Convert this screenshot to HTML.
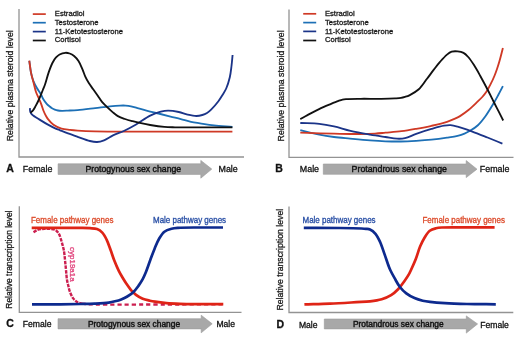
<!DOCTYPE html>
<html><head><meta charset="utf-8"><style>
html,body{margin:0;padding:0;background:#fff;}
body{width:520px;height:341px;overflow:hidden;}
svg{display:block;filter:blur(0.3px);}
text{font-family:"Liberation Sans",Arial,sans-serif;stroke-width:0.3px;}
.lg{font-size:7.65px;fill:#1a1a1a;stroke:#1a1a1a;}
.yl{font-size:8.73px;fill:#1a1a1a;stroke:#1a1a1a;}
.yl2{font-size:8.42px;fill:#1a1a1a;stroke:#1a1a1a;}
.pl{font-size:10.5px;font-weight:bold;fill:#111;stroke:#111;}
.ar{font-size:8.8px;fill:#111;stroke:#111;stroke-width:0.4px;}
.el{font-size:8.9px;fill:#111;stroke:#111;}
.el2{font-size:8.6px;}
.gl{font-size:8px;}
.cy{font-size:8px;}
</style></head><body>
<svg width="520" height="341" viewBox="0 0 520 341">
<rect width="520" height="341" fill="#fff"/>
<path d="M19,9 V157 H244" fill="none" stroke="#939393" stroke-width="1.3"/>
<path d="M289,9.5 V157.3 H513.5" fill="none" stroke="#939393" stroke-width="1.3"/>
<path d="M19.3,206.3 V312.3 H241.5" fill="none" stroke="#939393" stroke-width="1.3"/>
<path d="M289,206.5 V312.5 H513.3" fill="none" stroke="#939393" stroke-width="1.3"/>
<line x1="32.8" y1="14.1" x2="45.8" y2="14.1" stroke="#cf3925" stroke-width="1.7"/>
<text x="54.8" y="15.6" class="lg">Estradiol</text>
<line x1="32.8" y1="22.7" x2="45.8" y2="22.7" stroke="#1d70b6" stroke-width="1.7"/>
<text x="54.8" y="24.5" class="lg">Testosterone</text>
<line x1="32.8" y1="31.6" x2="45.8" y2="31.6" stroke="#1b3488" stroke-width="1.7"/>
<text x="54.8" y="33.5" class="lg">11-Ketotestosterone</text>
<line x1="32.8" y1="40.5" x2="45.8" y2="40.5" stroke="#111111" stroke-width="1.7"/>
<text x="54.8" y="42.4" class="lg">Cortisol</text>
<line x1="303.2" y1="13.8" x2="316.2" y2="13.8" stroke="#cf3925" stroke-width="1.7"/>
<text x="324.9" y="15.6" class="lg">Estradiol</text>
<line x1="303.2" y1="22.6" x2="316.2" y2="22.6" stroke="#1d70b6" stroke-width="1.7"/>
<text x="324.9" y="24.5" class="lg">Testosterone</text>
<line x1="303.2" y1="31.4" x2="316.2" y2="31.4" stroke="#1b3488" stroke-width="1.7"/>
<text x="324.9" y="33.5" class="lg">11-Ketotestosterone</text>
<line x1="303.2" y1="40.5" x2="316.2" y2="40.5" stroke="#111111" stroke-width="1.7"/>
<text x="324.9" y="42.4" class="lg">Cortisol</text>
<path d="M29.30,60.80 C29.87,64.73 30.25,69.05 31.00,72.60 C31.63,75.60 32.30,78.20 33.30,80.80 C34.28,83.33 35.60,85.72 36.90,88.00 C38.14,90.18 39.76,92.18 40.90,94.20 C41.92,96.01 42.50,97.87 43.50,99.50 C44.45,101.06 45.62,102.60 46.70,103.80 C47.59,104.79 48.49,105.55 49.40,106.30 C50.25,107.00 51.09,107.65 52.00,108.20 C52.89,108.74 53.82,109.22 54.80,109.60 C55.81,109.99 56.86,110.30 58.00,110.50 C59.25,110.72 60.53,110.77 62.00,110.80 C63.80,110.84 65.77,110.70 68.00,110.60 C70.83,110.48 73.92,110.40 77.60,110.10 C82.59,109.69 89.59,108.76 95.20,108.10 C100.35,107.49 105.54,106.73 110.00,106.30 C113.65,105.95 117.14,105.70 120.00,105.60 C122.13,105.53 123.75,105.48 125.60,105.60 C127.42,105.72 129.07,105.92 131.00,106.30 C133.31,106.76 135.73,107.54 138.50,108.30 C141.97,109.25 146.43,110.62 150.20,111.60 C153.68,112.50 156.93,113.17 160.30,114.00 C163.70,114.84 167.09,115.75 170.50,116.60 C173.92,117.45 177.38,118.23 180.80,119.10 C184.21,119.97 187.69,121.09 191.00,121.80 C194.08,122.46 196.67,122.77 200.00,123.30 C204.15,123.96 209.00,124.84 214.00,125.40 C219.70,126.04 226.27,126.33 232.40,126.80" fill="none" stroke="#1d70b6" stroke-width="1.85" stroke-linecap="butt" stroke-linejoin="round" />
<path d="M29.30,60.60 C29.87,64.60 30.26,68.86 31.00,72.60 C31.66,75.94 32.58,78.82 33.40,82.00 C34.25,85.28 34.94,88.94 36.00,92.00 C36.95,94.72 38.34,97.24 39.30,99.50 C40.09,101.36 40.72,102.79 41.40,104.60 C42.16,106.60 42.79,109.02 43.60,111.00 C44.34,112.79 45.16,114.53 46.00,116.00 C46.71,117.24 47.24,118.11 48.20,119.30 C49.53,120.96 51.39,123.28 53.50,124.80 C55.77,126.43 58.73,127.75 61.50,128.60 C64.23,129.44 67.24,129.56 70.00,129.90 C72.60,130.22 74.55,130.39 77.60,130.60 C82.21,130.92 88.67,131.23 95.00,131.40 C102.58,131.60 109.87,131.56 120.00,131.60 C135.69,131.66 160.68,131.60 180.00,131.60 C198.06,131.60 214.93,131.60 232.40,131.60" fill="none" stroke="#cf3925" stroke-width="1.85" stroke-linecap="butt" stroke-linejoin="round" />
<path d="M29.90,108.20 C30.00,109.30 29.90,110.49 30.20,111.50 C30.49,112.45 30.92,113.29 31.60,114.10 C32.42,115.08 33.78,115.94 35.00,116.80 C36.30,117.71 37.56,118.40 39.20,119.40 C41.50,120.80 44.71,122.85 47.50,124.40 C50.22,125.91 53.38,127.55 55.70,128.60 C57.34,129.34 58.34,129.65 60.00,130.30 C62.25,131.18 65.20,132.36 68.00,133.40 C71.05,134.53 74.20,135.62 77.60,136.80 C81.44,138.14 86.32,140.15 89.90,141.00 C92.56,141.63 94.65,142.12 97.00,142.00 C99.35,141.88 101.58,141.23 104.00,140.30 C106.88,139.19 109.82,136.91 113.00,135.40 C116.39,133.79 120.13,132.71 123.80,131.00 C127.81,129.13 131.91,126.93 136.10,124.50 C140.69,121.84 145.72,117.81 150.20,115.60 C153.88,113.78 157.57,112.53 160.80,111.70 C163.39,111.03 165.36,110.63 168.00,110.60 C171.23,110.56 175.41,111.28 178.80,112.00 C181.91,112.66 184.64,113.93 187.60,114.60 C190.51,115.26 193.76,116.01 196.40,116.00 C198.56,115.99 200.47,115.54 202.30,115.00 C203.99,114.51 205.55,113.89 207.00,113.00 C208.48,112.10 209.60,111.06 211.10,109.60 C213.26,107.49 216.39,103.85 218.40,101.20 C220.05,99.03 221.20,97.11 222.50,95.00 C223.80,92.88 225.09,91.03 226.20,88.50 C227.59,85.33 228.91,81.08 229.80,77.30 C230.67,73.58 231.03,69.75 231.50,66.00 C231.96,62.31 232.23,58.67 232.60,55.00" fill="none" stroke="#1b3488" stroke-width="1.85" stroke-linecap="butt" stroke-linejoin="round" />
<path d="M30.30,112.80 C31.13,112.07 32.00,111.54 32.80,110.60 C33.83,109.38 34.76,107.58 35.70,105.90 C36.73,104.06 37.67,102.25 38.70,100.00 C40.02,97.13 41.63,92.87 42.80,90.00 C43.68,87.84 44.31,86.56 45.10,84.30 C46.22,81.11 47.32,76.28 48.60,72.60 C49.77,69.22 51.03,65.67 52.40,63.00 C53.47,60.91 54.51,59.17 55.80,57.70 C56.94,56.40 58.11,55.30 59.60,54.50 C61.23,53.62 63.51,52.92 65.30,52.80 C66.85,52.70 68.28,53.00 69.70,53.50 C71.22,54.03 72.72,54.87 74.10,56.00 C75.69,57.30 77.18,59.08 78.50,61.10 C80.07,63.49 81.42,66.88 82.60,69.60 C83.65,72.02 84.26,74.35 85.30,76.60 C86.33,78.82 87.50,80.91 88.80,83.00 C90.13,85.15 91.73,87.21 93.20,89.30 C94.66,91.38 96.14,93.41 97.60,95.50 C99.07,97.61 100.45,100.01 102.00,101.90 C103.40,103.60 104.79,104.83 106.40,106.40 C108.27,108.21 110.57,110.41 112.60,112.10 C114.40,113.60 115.92,114.98 117.90,116.10 C120.02,117.31 122.57,118.15 125.00,119.00 C127.47,119.86 129.99,120.51 132.60,121.20 C135.32,121.92 138.13,122.58 141.00,123.20 C143.99,123.85 146.80,124.44 150.20,125.00 C154.39,125.69 159.92,126.52 164.30,126.90 C168.10,127.23 170.69,127.21 175.00,127.30 C181.59,127.44 191.13,127.38 200.00,127.40 C210.10,127.42 221.60,127.40 232.40,127.40" fill="none" stroke="#111111" stroke-width="1.85" stroke-linecap="butt" stroke-linejoin="round" />
<path d="M300.30,130.10 C303.20,130.83 305.97,131.56 309.00,132.30 C312.28,133.10 315.55,133.97 319.30,134.70 C323.75,135.57 328.99,136.36 334.00,137.00 C339.21,137.67 344.37,138.06 350.00,138.60 C356.29,139.20 363.76,139.94 370.00,140.40 C375.46,140.81 380.26,141.12 385.40,141.30 C390.53,141.48 395.67,141.58 400.80,141.50 C405.93,141.42 411.08,141.12 416.20,140.80 C421.31,140.48 426.39,140.13 431.50,139.60 C436.66,139.07 442.33,138.30 447.00,137.60 C450.87,137.02 454.47,136.56 457.60,135.80 C460.17,135.18 462.36,134.48 464.50,133.60 C466.47,132.79 468.05,131.98 470.00,130.80 C472.45,129.32 475.41,127.51 477.90,125.20 C480.71,122.59 483.27,119.19 485.80,115.70 C488.59,111.86 491.53,106.84 493.80,103.00 C495.62,99.91 496.97,97.33 498.50,94.50 C500.01,91.70 501.43,88.90 502.90,86.10" fill="none" stroke="#1d70b6" stroke-width="1.85" stroke-linecap="butt" stroke-linejoin="round" />
<path d="M300.30,132.60 C306.87,132.83 313.41,133.10 320.00,133.30 C326.64,133.50 333.33,133.68 340.00,133.80 C346.67,133.92 353.81,134.05 360.00,134.00 C365.36,133.96 370.46,133.86 375.00,133.60 C378.79,133.39 381.56,133.05 385.40,132.70 C390.18,132.27 396.27,131.87 401.50,131.20 C406.52,130.56 411.26,129.69 416.20,128.80 C421.26,127.89 426.40,126.94 431.50,125.80 C436.67,124.64 442.72,123.29 447.00,121.90 C450.14,120.88 452.67,119.77 455.00,118.70 C456.89,117.84 458.14,117.24 460.00,116.10 C462.57,114.52 465.94,112.14 468.80,109.80 C471.81,107.33 475.08,104.03 477.60,101.60 C479.55,99.72 481.18,98.21 482.70,96.50 C484.08,94.94 485.20,93.61 486.40,91.80 C487.85,89.62 489.28,86.81 490.60,84.20 C491.95,81.54 493.30,78.65 494.40,76.00 C495.40,73.59 496.17,71.42 497.00,69.00 C497.88,66.43 498.64,64.01 499.50,61.00 C500.59,57.18 501.77,52.27 502.90,47.90" fill="none" stroke="#cf3925" stroke-width="1.85" stroke-linecap="butt" stroke-linejoin="round" />
<path d="M300.30,119.10 C302.70,117.77 304.80,116.55 307.50,115.10 C310.90,113.28 315.21,110.95 319.10,109.10 C322.91,107.29 327.12,105.56 330.60,104.10 C333.47,102.89 336.30,101.70 338.50,100.90 C340.05,100.34 341.20,99.90 342.50,99.60 C343.69,99.32 344.42,99.23 346.00,99.10 C349.22,98.84 355.47,98.85 360.80,98.80 C367.08,98.74 375.15,98.89 381.30,98.80 C386.33,98.73 391.36,98.60 395.00,98.40 C397.41,98.26 399.21,98.20 401.00,97.90 C402.48,97.66 403.65,97.31 405.00,96.90 C406.44,96.46 407.71,96.13 409.40,95.30 C412.01,94.01 415.97,91.87 418.80,89.30 C421.89,86.49 424.39,82.22 427.00,78.80 C429.44,75.59 431.73,72.34 434.00,69.40 C436.05,66.74 437.86,64.34 440.00,61.90 C442.19,59.40 444.79,56.39 447.00,54.60 C448.63,53.28 449.97,52.24 451.70,51.70 C453.49,51.14 455.65,51.21 457.60,51.40 C459.58,51.60 461.74,51.98 463.50,52.90 C465.28,53.83 466.65,55.29 468.20,57.00 C470.16,59.16 472.10,62.15 474.00,65.10 C476.14,68.42 478.17,72.17 480.30,76.00 C482.63,80.19 485.12,84.90 487.40,89.30 C489.61,93.57 491.83,98.11 493.80,102.00 C495.48,105.32 496.94,108.12 498.50,111.20 C500.07,114.29 501.63,117.40 503.20,120.50" fill="none" stroke="#111111" stroke-width="1.85" stroke-linecap="butt" stroke-linejoin="round" />
<path d="M300.30,123.00 C306.63,123.27 313.39,123.16 319.30,123.80 C324.53,124.37 328.98,125.28 334.00,126.40 C339.37,127.60 344.74,129.57 350.50,130.90 C356.70,132.33 363.87,133.54 370.00,134.60 C375.43,135.54 380.63,136.28 385.40,137.00 C389.54,137.63 393.48,138.55 397.00,138.70 C399.91,138.82 402.16,138.83 405.00,138.20 C408.48,137.43 412.15,135.24 416.20,133.80 C420.88,132.13 426.64,130.30 431.50,128.90 C435.86,127.65 440.47,126.28 444.00,125.70 C446.53,125.28 448.38,125.06 450.60,125.20 C452.91,125.34 454.89,125.88 457.60,126.60 C461.51,127.64 466.89,129.56 471.70,131.30 C476.84,133.16 482.32,135.42 487.50,137.50 C492.55,139.52 497.43,141.57 502.40,143.60" fill="none" stroke="#1b3488" stroke-width="1.85" stroke-linecap="butt" stroke-linejoin="round" />
<path d="M33.50,232.30 C34.67,231.57 35.74,230.63 37.00,230.10 C38.27,229.56 39.74,229.32 41.10,229.10 C42.41,228.89 43.67,228.85 45.00,228.80 C46.40,228.75 47.76,228.67 49.30,228.80 C51.12,228.95 53.60,228.94 55.20,229.80 C56.68,230.59 57.74,231.95 58.70,233.50 C59.87,235.37 60.59,238.29 61.30,240.50 C61.92,242.43 62.35,244.26 62.80,246.00 C63.21,247.57 63.58,248.71 63.90,250.50 C64.36,253.07 64.65,256.79 65.00,260.00 C65.35,263.29 65.67,266.67 66.00,270.00 C66.33,273.33 66.55,277.20 67.00,280.00 C67.33,282.06 67.77,283.52 68.20,285.30 C68.64,287.12 68.90,288.85 69.60,290.80 C70.45,293.17 71.71,296.41 73.20,298.40 C74.43,300.04 75.86,301.30 77.50,302.20 C79.15,303.11 81.23,303.27 83.10,303.80" fill="none" stroke="#cc1f50" stroke-width="2.4" stroke-linecap="butt" stroke-linejoin="round" stroke-dasharray="3.6 1.05"/>
<path d="M83.10,303.80 C87.07,304.03 90.30,304.35 95.00,304.50 C101.80,304.71 110.69,304.59 120.00,304.60 C131.77,304.61 145.16,304.54 160.00,304.50 C178.60,304.45 201.93,304.37 222.90,304.30" fill="none" stroke="#cc1f50" stroke-width="2.4" stroke-linecap="butt" stroke-linejoin="round" stroke-dasharray="4.2 3.0" stroke-dashoffset="1.5"/>
<path d="M31.70,227.80 C41.13,227.80 51.38,227.78 60.00,227.80 C67.24,227.82 74.48,227.80 80.00,227.90 C83.91,227.97 86.97,227.96 90.00,228.20 C92.55,228.40 94.91,228.32 97.00,229.10 C98.98,229.84 100.77,231.02 102.30,232.60 C104.04,234.40 105.30,236.97 106.60,239.60 C108.11,242.66 109.32,246.52 110.60,250.00 C111.88,253.48 112.94,257.04 114.30,260.50 C115.67,263.98 117.27,267.71 118.80,270.80 C120.11,273.45 121.50,275.81 122.80,278.00 C123.92,279.89 124.80,281.31 126.10,283.20 C127.75,285.61 130.12,289.13 132.00,291.20 C133.38,292.72 134.43,293.65 136.00,294.80 C137.89,296.18 140.36,297.71 142.70,298.70 C145.00,299.67 147.70,300.18 149.90,300.70 C151.74,301.13 152.95,301.37 155.00,301.70 C158.06,302.19 162.51,302.75 166.50,303.10 C170.81,303.47 175.06,303.63 180.00,303.80 C186.01,304.00 193.08,304.03 200.00,304.10 C207.47,304.17 215.53,304.17 223.30,304.20" fill="none" stroke="#df2416" stroke-width="2.7" stroke-linecap="butt" stroke-linejoin="round" />
<path d="M32.00,304.40 C41.33,304.37 51.45,304.38 60.00,304.30 C67.23,304.23 73.86,304.13 80.00,304.00 C85.25,303.89 89.77,303.84 94.60,303.60 C99.37,303.37 105.05,303.12 108.80,302.60 C111.30,302.25 112.95,301.83 115.00,301.30 C117.08,300.76 119.17,300.19 121.20,299.40 C123.27,298.60 125.32,297.69 127.30,296.50 C129.42,295.22 131.63,293.69 133.50,291.90 C135.41,290.07 137.05,287.75 138.60,285.60 C140.10,283.52 141.55,281.30 142.70,279.20 C143.74,277.31 144.35,275.90 145.30,273.60 C146.76,270.08 148.68,264.35 150.30,260.00 C151.80,255.98 153.17,252.07 154.70,248.40 C156.11,245.00 157.38,241.59 159.10,238.70 C160.66,236.08 162.24,233.38 164.40,231.70 C166.42,230.13 169.14,229.35 171.50,228.70 C173.67,228.10 175.18,228.01 178.00,227.80 C183.16,227.41 192.59,227.55 200.00,227.50 C207.58,227.45 215.33,227.50 223.00,227.50" fill="none" stroke="#0d2a8e" stroke-width="2.7" stroke-linecap="butt" stroke-linejoin="round" />
<path d="M304.40,304.40 C312.93,304.13 321.41,303.96 330.00,303.60 C338.71,303.23 348.95,302.61 356.30,302.20 C361.61,301.90 365.63,301.92 370.00,301.40 C374.07,300.92 378.07,300.40 381.70,299.30 C385.07,298.28 388.31,296.93 391.10,295.20 C393.74,293.56 395.97,291.52 398.10,289.30 C400.28,287.03 402.18,284.21 404.00,281.70 C405.70,279.35 407.47,276.84 408.70,274.70 C409.67,273.01 410.12,271.91 411.00,270.00 C412.34,267.11 414.31,262.81 415.80,259.00 C417.36,255.02 418.53,250.33 420.10,246.60 C421.46,243.37 422.83,240.50 424.50,237.80 C426.08,235.25 427.71,232.40 429.80,230.80 C431.62,229.41 433.91,228.85 436.00,228.30 C438.01,227.77 439.53,227.68 442.10,227.50 C446.49,227.19 453.06,227.34 460.00,227.30 C469.65,227.25 483.07,227.30 494.60,227.30" fill="none" stroke="#df2416" stroke-width="2.7" stroke-linecap="butt" stroke-linejoin="round" />
<path d="M303.80,227.80 C315.87,227.87 329.50,227.85 340.00,228.00 C348.10,228.12 357.00,228.30 361.50,228.50 C363.56,228.59 364.55,228.64 366.00,228.80 C367.38,228.95 368.64,228.81 370.00,229.40 C371.79,230.18 373.90,231.92 375.50,233.80 C377.35,235.98 378.69,238.92 380.10,242.00 C381.77,245.65 383.14,250.29 384.60,254.40 C386.04,258.45 387.67,263.57 388.80,266.50 C389.46,268.21 389.77,268.97 390.50,270.50 C391.54,272.67 393.11,275.57 394.60,278.20 C396.22,281.06 397.87,284.41 399.90,287.00 C401.80,289.43 403.90,291.56 406.30,293.40 C408.75,295.28 411.70,296.87 414.50,298.10 C417.17,299.27 420.02,300.06 422.70,300.70 C425.18,301.29 427.13,301.54 430.00,301.90 C434.10,302.41 439.52,302.86 445.00,303.20 C451.61,303.61 459.09,303.82 466.90,304.00 C475.87,304.21 486.17,304.20 495.80,304.30" fill="none" stroke="#0d2a8e" stroke-width="2.7" stroke-linecap="butt" stroke-linejoin="round" />
<text class="yl" transform="translate(13.3,85.75) rotate(-90)" text-anchor="middle">Relative plasma steroid level</text>
<text class="yl" transform="translate(283.5,85.9) rotate(-90)" text-anchor="middle">Relative plasma steroid level</text>
<text class="yl2" transform="translate(12.3,259.6) rotate(-90)" text-anchor="middle">Relative transcription level</text>
<text class="yl" transform="translate(282.5,259.7) rotate(-90)" text-anchor="middle">Relative transcription level</text>
<text class="pl" x="6.3" y="172">A</text>
<text class="pl" x="275.3" y="172">B</text>
<text class="pl" x="6.3" y="326.8">C</text>
<text class="pl" x="276.5" y="327.5">D</text>
<path d="M58.1,163.8 H200.8 V160.4 L211.8,169.10000000000002 L200.8,178.2 V174.4 H58.1 Z" fill="#a8a8a8" stroke="#9a9a9a" stroke-width="0.6"/><text class="ar" style="font-size:8.7px" x="85.5" y="171.9">Protogynous sex change</text>
<path d="M323.3,164.0 H466.2 V160.6 L477.0,169.15 L466.2,177.6 V174.3 H323.3 Z" fill="#a8a8a8" stroke="#9a9a9a" stroke-width="0.6"/><text class="ar" style="font-size:8.8px" x="351.6" y="171.9">Protandrous sex change</text>
<path d="M58.0,318.7 H201.2 V315.2 L212.2,323.79999999999995 L201.2,332.8 V328.9 H58.0 Z" fill="#a8a8a8" stroke="#9a9a9a" stroke-width="0.6"/><text class="ar" style="font-size:8.4px" x="87.9" y="327.1">Protogynous sex change</text>
<path d="M324.3,319.0 H466.3 V315.9 L477.6,323.95 L466.3,333.1 V328.9 H324.3 Z" fill="#a8a8a8" stroke="#9a9a9a" stroke-width="0.6"/><text class="ar" style="font-size:8.4px" x="352.9" y="327.1">Protandrous sex change</text>
<text class="el" x="22.8" y="171.8">Female</text>
<text class="el" x="218.5" y="171.8">Male</text>
<text class="el" x="299.8" y="172">Male</text>
<text class="el" x="479.8" y="172">Female</text>
<text class="el el2" x="22.8" y="327.2">Female</text>
<text class="el el2" x="216.4" y="327.2">Male</text>
<text class="el el2" x="298.9" y="327.5">Male</text>
<text class="el el2" x="480.2" y="327.5">Female</text>
<text class="gl" transform="translate(31,222.8) scale(1,1.1)" fill="#dd4c2c" stroke="#dd4c2c" stroke-width="0.05">Female pathway genes</text>
<text class="gl" transform="translate(153,222.9) scale(1,1.1)" fill="#2a50a6" stroke="#2a50a6" stroke-width="0.05">Male pathway genes</text>
<text class="gl" transform="translate(302.5,222.9) scale(1,1.1)" fill="#2a50a6" stroke="#2a50a6" stroke-width="0.05">Male pathway genes</text>
<text class="gl" transform="translate(422.5,222.9) scale(1,1.1)" fill="#dd4c2c" stroke="#dd4c2c" stroke-width="0.05">Female pathway genes</text>
<text class="cy" transform="translate(69.5,247) rotate(90)" fill="#e0407a" stroke="#e0407a" stroke-width="0.2">cyp19a1a</text>
</svg>
</body></html>
